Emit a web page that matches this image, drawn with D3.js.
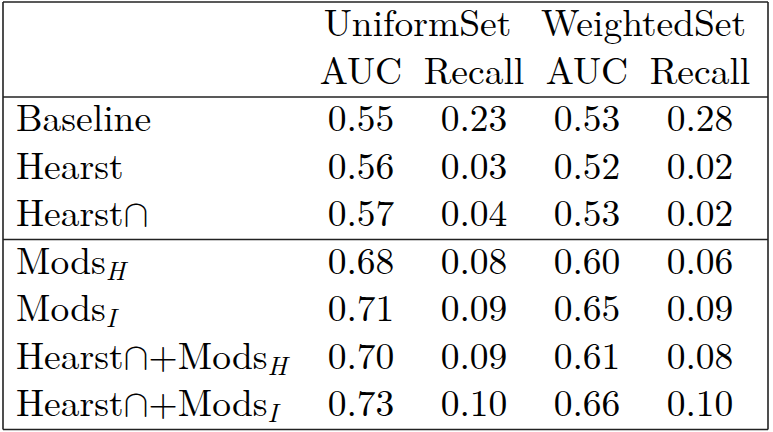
<!DOCTYPE html>
<html>
<head>
<meta charset="utf-8">
<script src="https://cdn.jsdelivr.net/npm/d3@7"></script>
<style>
    body { margin: 0; background: #fff; }
</style>
</head>
<body>
<div id="chart"></div>
<script>
// row labels ("_" marks an italic subscript)
var methods = ["Baseline", "Hearst", "Hearst∩", "Mods_H", "Mods_I", "Hearst∩+Mods_H", "Hearst∩+Mods_I"];
var groups = ["UniformSet", "WeightedSet"];
var metrics = ["AUC", "Recall"];

var uniformAUC = [0.55, 0.56, 0.57, 0.68, 0.71, 0.70, 0.73];
var uniformRecall = [0.23, 0.03, 0.04, 0.08, 0.09, 0.09, 0.10];
var weightedAUC = [0.53, 0.52, 0.53, 0.60, 0.65, 0.61, 0.66];
var weightedRecall = [0.28, 0.02, 0.02, 0.06, 0.09, 0.08, 0.10];

// rules drawn after these row counts (header = 2 rows)
var ruleRows = [0, 2, 5, 9];

var width = 773, height = 432;
var fontSize = 37.5;

var svg = d3.select("#chart")
    .append("svg")
    .attr("width", width)
    .attr("height", height)
    .attr("font-family", "'Latin Modern Roman', 'CMU Serif', 'Liberation Serif', serif")
    .attr("fill", "#000");

//row scale: 2 header rows + 7 body rows
var yScale = d3.scaleLinear()
    .domain([0, 9])
    .range([2, 429.5]);
var baseline = function (i) { return yScale(i) + 34; };

//column scale for the four value columns
var columns = ["uAUC", "uRecall", "wAUC", "wRecall"];
var xScale = d3.scalePoint()
    .domain(columns)
    .range([361, 700]);

var left = 3, right = 768, labelX = 16;

//frame
svg.append("g")
    .selectAll("line")
    .data(ruleRows)
    .enter().append("line")
    .attr("x1", left)
    .attr("x2", right)
    .attr("y1", function (d) { return yScale(d); })
    .attr("y2", function (d) { return yScale(d); })
    .attr("stroke", "#222")
    .attr("stroke-width", 1.6);

svg.append("g")
    .selectAll("line")
    .data([left, right])
    .enter().append("line")
    .attr("x1", function (d) { return d; })
    .attr("x2", function (d) { return d; })
    .attr("y1", yScale(0))
    .attr("y2", yScale(9))
    .attr("stroke", "#222")
    .attr("stroke-width", 1.6);

//header: group names centered over their two columns
svg.append("g")
    .selectAll("text")
    .data(groups)
    .enter().append("text")
    .attr("x", function (d, i) {
        return (xScale(columns[i * 2]) + xScale(columns[i * 2 + 1])) / 2;
    })
    .attr("y", baseline(0))
    .attr("text-anchor", "middle")
    .attr("font-size", fontSize)
    .text(function (d) { return d; });

svg.append("g")
    .selectAll("text")
    .data(columns)
    .enter().append("text")
    .attr("x", function (d) { return xScale(d); })
    .attr("y", baseline(1))
    .attr("text-anchor", "middle")
    .attr("font-size", fontSize)
    .text(function (d, i) { return metrics[i % 2]; });

//row labels
var labels = svg.append("g")
    .selectAll("text")
    .data(methods)
    .enter().append("text")
    .attr("x", labelX)
    .attr("y", function (d, i) { return baseline(i + 2); })
    .attr("font-size", fontSize);

labels.each(function (d) {
    var parts = d.split("_");
    var t = d3.select(this);
    // the cap sign comes from a math-ish font so it is full size
    parts[0].split(/(∩)/).forEach(function (piece) {
        if (piece === "") return;
        var s = t.append("tspan").text(piece);
        if (piece === "∩") {
            s.attr("font-family", "'Latin Modern Math', 'DejaVu Serif', serif");
        }
    });
    if (parts.length > 1) {
        t.append("tspan")
            .attr("dy", 6)
            .attr("font-size", fontSize * 0.7)
            .attr("font-style", "italic")
            .text(parts[1]);
    }
});

//values
var valueCols = [uniformAUC, uniformRecall, weightedAUC, weightedRecall];
valueCols.forEach(function (vals, c) {
    svg.append("g")
        .selectAll("text")
        .data(vals)
        .enter().append("text")
        .attr("x", xScale(columns[c]))
        .attr("y", function (d, i) { return baseline(i + 2); })
        .attr("text-anchor", "middle")
        .attr("font-size", fontSize)
        .text(function (d) { return d3.format(".2f")(d); });
});
</script>
</body>
</html>
